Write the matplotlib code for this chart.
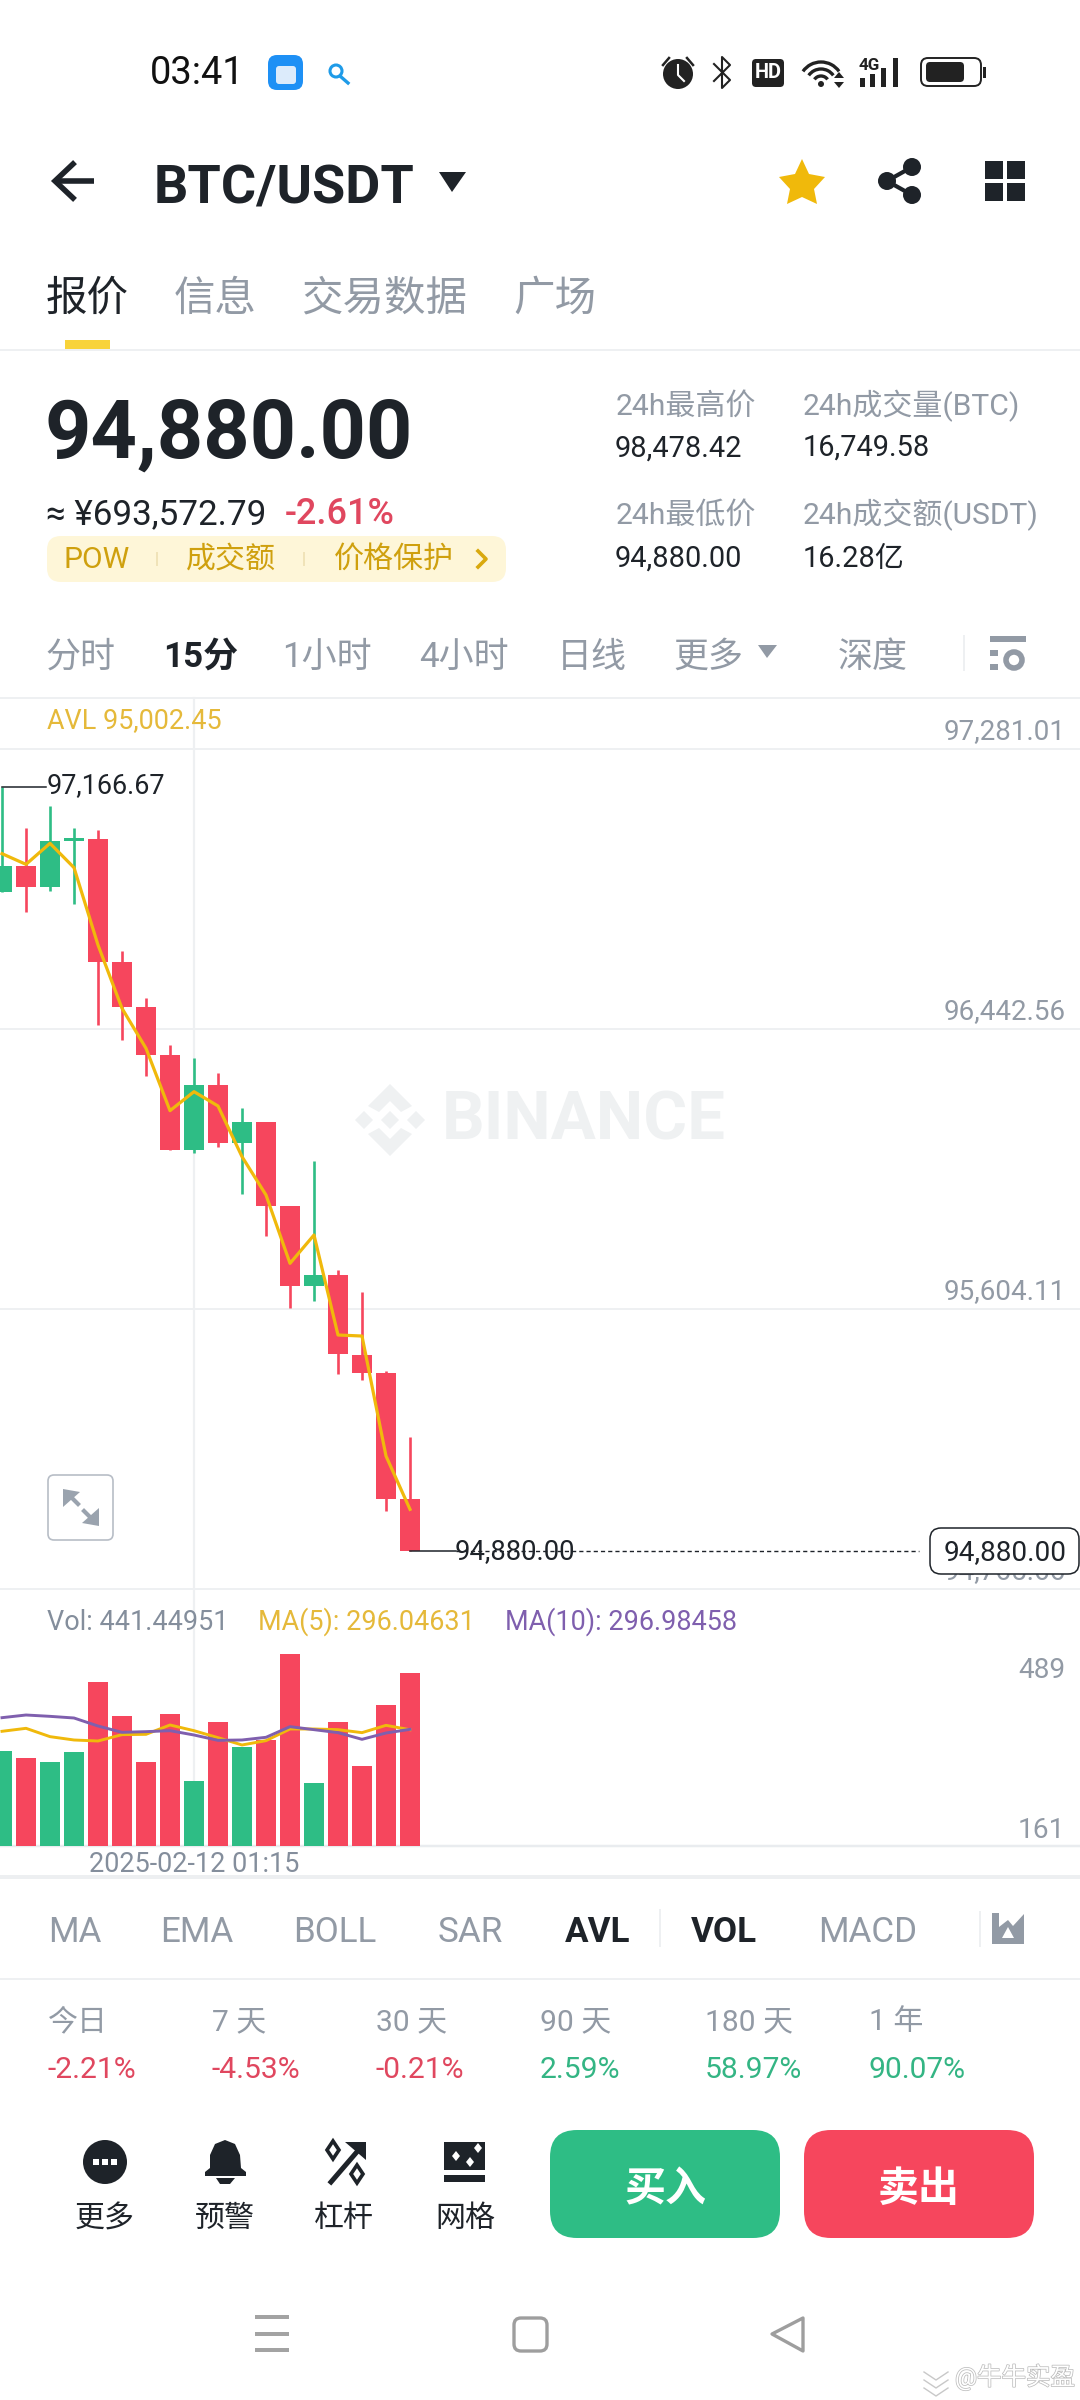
"""
plot.py
BTC/USDT 15 minute candle screen, drawn on a 1080x2400 canvas.
"""
import matplotlib
matplotlib.use('Agg')
import matplotlib.pyplot as plt
import matplotlib.patheffects as pe
from matplotlib.patches import Arc, Circle, FancyBboxPatch, Polygon, Rectangle

plt.rcParams['font.family'] = ['Roboto', 'Noto Sans CJK SC', 'DejaVu Sans']

# candles
opens = [96852, 96932, 96868, 97007, 97011.5, 96642, 96507.4, 96363.7, 96080.2, 96273.8,
         96101.2, 96163.1, 95912.5, 95671.9, 95705.9, 95467.3, 95413.4, 95035.1]
highs = [97166.67, 97044.4, 97109.3, 97044.4, 97038.4, 96677.1, 96535.4, 96393.6, 96354.7, 96309.8,
         96205, 96163.1, 95912.5, 96046.3, 95720.9, 95656, 95418.4, 95221.8]
lows = [96851.8, 96793.9, 96855.8, 96816.9, 96453.5, 96409.6, 96301.8, 96080.2, 96072.2, 96090.2,
        95949.4, 95821.7, 95607.1, 95629, 95409.5, 95391.5, 94999.2, 94880]
closes = [96932, 96868, 97005.5, 97013.5, 96642.2, 96508.4, 96364.7, 96080.2, 96273.8, 96101.2,
          96163.1, 95913.5, 95671.9, 95705.9, 95469.3, 95413.4, 95036.1, 94880]
avl = [96967.6, 96935.6, 96998.5, 96925.7, 96694.1, 96504.4, 96384.7, 96198, 96254.9, 96212,
       96060.3, 95945.5, 95740.8, 95825.7, 95526.2, 95523.2, 95163.9, 95004.2]
price_ticks = [97281.01, 96442.56, 95604.11, 94765.66]
max_price = 97166.67
last_price = 94880.00

# volume panel
volumes = [241.0, 224.9, 213.9, 239.3, 416.7, 330.1, 213.9, 336.9, 164.6, 315.7,
           251.2, 269.0, 488.9, 161.3, 314.9, 203.7, 358.1, 441.4]
ma5 = [292.0, 299.6, 278.4, 269.9, 267.3, 283.5, 284.3, 308.1, 293.6, 275.8,
       257.2, 268.2, 297.9, 297.9, 296.2, 288.6, 307.2, 296.0]
ma10 = [326.7, 333.5, 330.1, 325.9, 305.5, 289.4, 291.1, 293.6, 282.6, 269.0,
        269.9, 276.7, 303.8, 296.2, 288.6, 271.6, 287.7, 297.0]

# text rows
tabs = ['报价', '信息', '交易数据', '广场']
periods = ['分时', '15分', '1小时', '4小时', '日线', '更多', '深度']
indicators = ['MA', 'EMA', 'BOLL', 'SAR', 'AVL', 'VOL', 'MACD']
stat_names = ['今日', '7 天', '30 天', '90 天', '180 天', '1 年']
stat_values = ['-2.21%', '-4.53%', '-0.21%', '2.59%', '58.97%', '90.07%']
tool_names = ['更多', '预警', '杠杆', '网格']

DARK = '#1E2329'
GREY = '#929AA5'
LINE = '#EEF0F2'
RED = '#F6465D'
GREEN = '#2EBD85'
GOLD = '#E5B93A'
AVL_COL = '#F0B90B'
PURPLE = '#7F5FAE'
TEXT_RED = '#E0475F'
TEXT_GREEN = '#34B584'


fig = plt.figure(figsize=(10.8, 24), dpi=100, facecolor='white')


def overlay(z):
    a = fig.add_axes([0, 0, 1, 1], zorder=z)
    a.set_xlim(0, 1080)
    a.set_ylim(2400, 0)
    a.axis('off')
    return a


ui = overlay(0)
top = overlay(5)


def txt(x, y, s, px=28, color=GREY, ha='left', weight='normal', a=None, **kw):
    # +3: va='center' sits a little high for these fonts
    return (a or ui).text(x, y + 3, s, fontsize=px * 0.72, color=color, ha=ha, va='center',
                          fontweight=weight, **kw)


def hline(y, x0=0, x1=1080, color=LINE, lw=2, a=None):
    (a or ui).plot([x0, x1], [y, y], color=color, lw=lw * 0.72, solid_capstyle='butt')


def box(x0, y0, x1, y1, r, face, edge='none', lw=0, a=None, z=2):
    (a or ui).add_patch(FancyBboxPatch((x0 + r, y0 + r), x1 - x0 - 2 * r, y1 - y0 - 2 * r,
                                       boxstyle=f'round,pad={r},rounding_size={r}',
                                       fc=face, ec=edge, lw=lw, zorder=z))


def poly(points, color, a=None, z=2):
    (a or ui).add_patch(Polygon(points, closed=True, fc=color, ec='none', zorder=z))


# ---- status bar ----
txt(150, 70, '03:41', 38, '#111111')
box(268, 55, 303, 90, 9, '#1E90F5')
box(276, 66, 296, 84, 3, '#DCEBFB')
ui.add_patch(Circle((336, 71), 6, fc='none', ec='#1E9BE8', lw=2.2))
ui.plot([340, 348], [76, 83], color='#1E9BE8', lw=2.4)

ui.add_patch(Circle((678, 74), 15, fc='#222222', ec='none'))
ui.plot([678, 678, 684], [65, 75, 81], color='white', lw=1.5)
ui.plot([663, 669], [65, 58], color='#222222', lw=1.8)
ui.plot([687, 693], [58, 65], color='#222222', lw=1.8)
ui.plot([714, 730, 722, 722, 730, 714], [64, 80, 88, 57, 65, 81], color='#222222', lw=1.5)
box(752, 59, 784, 87, 4, '#222222')
txt(768, 70, 'HD', 20, 'white', ha='center', weight='bold', zorder=4)
for r in (8, 15, 22):
    ui.add_patch(Arc((821, 84), r * 2, r * 2, theta1=215, theta2=325, ec='#222222', lw=2.4))
ui.add_patch(Circle((821, 84), 3, fc='#222222', ec='none'))
poly([(839, 72), (844, 78), (834, 78)], '#222222')
poly([(839, 88), (844, 82), (834, 82)], '#222222')
txt(859, 63, '4G', 17, '#222222', weight='bold')
for bx, by in zip([860, 870, 881, 893], [78, 74, 68, 58]):
    ui.add_patch(Rectangle((bx, by), 5, 87 - by, fc='#222222', ec='none'))
box(921, 58, 981, 86, 7, 'white', '#222222', 1.4)
box(926, 62, 964, 82, 4, '#222222')
ui.add_patch(Rectangle((983, 67), 3, 11, fc='#222222', ec='none'))

# ---- nav bar ----
ui.plot([94, 58], [181, 181], color=DARK, lw=4, solid_capstyle='butt')
ui.plot([73, 55, 73], [164, 181, 198], color=DARK, lw=4, solid_joinstyle='miter')
txt(154, 186, 'BTC/USDT', 54, DARK, weight='bold')
poly([(439, 172), (466, 172), (452, 192)], DARK)
poly([(802, 159), (809, 174), (825, 177), (814, 189), (817, 204), (802, 197),
      (787, 204), (790, 189), (779, 177), (795, 174)], '#F0B90B')
ui.plot([912, 887, 912], [167, 181, 195], color=DARK, lw=3)
for cx, cy, r in [(912, 167, 9), (887, 181, 9), (912, 195, 9)]:
    ui.add_patch(Circle((cx, cy), r, fc=DARK, ec='none', zorder=3))
for gx in (985, 1007):
    for gy in (161, 183):
        ui.add_patch(Rectangle((gx, gy), 18, 18, fc=DARK, ec='none'))

# ---- tabs ----
for s, x, c, w in zip(tabs, [46, 174, 301, 513], [DARK, GREY, GREY, GREY],
                      ['medium', 'normal', 'normal', 'normal']):
    txt(x, 296, s, 41.5, c, weight=w)
ui.add_patch(Rectangle((65, 340), 45, 9, fc='#F8D33A', ec='none'))
hline(350)

# ---- price block ----
txt(44, 433, '94,880.00', 81, DARK, weight='bold')
txt(46, 512, '≈ ¥693,572.79', 35, DARK)
txt(285, 512, '-2.61%', 36, TEXT_RED, weight='medium')
box(47, 536, 506, 582, 14, '#FEF6D8')
txt(63, 557, 'POW', 30, '#CFA00E', zorder=3)
txt(186, 557, '成交额', 30, '#CFA00E', zorder=3)
txt(334, 557, '价格保护', 30, '#CFA00E', zorder=3)
ui.plot([478, 486, 478], [551, 559, 567], color='#D9A90E', lw=2.6, zorder=3)
for sx in (157, 304):
    ui.plot([sx, sx], [553, 565], color='#F0E3B8', lw=1.4, zorder=3)

txt(616, 404, '24h最高价', 30)
txt(615, 446, '98,478.42', 29, DARK)
txt(803, 403, '24h成交量(BTC)', 30)
txt(803, 445, '16,749.58', 29, DARK)
txt(616, 513, '24h最低价', 30)
txt(615, 556, '94,880.00', 29, DARK)
txt(803, 512, '24h成交额(USDT)', 30)
txt(803, 556, '16.28亿', 29, DARK)

# ---- period row ----
for s, x in zip(periods, [45, 163, 282, 419, 557, 673, 838]):
    txt(x, 654, s, 35, DARK if s == '15分' else GREY, weight='bold' if s == '15分' else 'normal')
poly([(758, 645), (777, 645), (767, 658)], GREY)
ui.plot([964, 964], [636, 670], color=LINE, lw=1.4)
ui.add_patch(Rectangle((990, 636), 36, 6, fc=GREY, ec='none'))
ui.add_patch(Rectangle((990, 650), 8, 6, fc=GREY, ec='none'))
ui.add_patch(Rectangle((990, 664), 8, 6, fc=GREY, ec='none'))
ui.add_patch(Circle((1014, 660), 8, fc='none', ec=GREY, lw=4))
hline(698)

# ---- watermark ----
WM = '#EFF1F2'
for cx, cy, r in [(390, 1120, 9), (364, 1120, 9), (416, 1120, 9)]:
    poly([(cx, cy - r), (cx + r, cy), (cx, cy + r), (cx - r, cy)], WM)
poly([(390, 1084), (412, 1106), (401, 1112), (390, 1101), (379, 1112), (368, 1106)], WM)
poly([(390, 1156), (412, 1134), (401, 1128), (390, 1139), (379, 1128), (368, 1134)], WM)
txt(442, 1118, 'BINANCE', 67, WM, weight='bold')

# crosshair under the marks
ui.plot([194, 194], [698, 1846], color=LINE, lw=1.6)

# ---- candles, x index i sits at 2 + 24 * i pixels ----
xs = list(range(len(opens)))
xlim = (-2 / 24, 1078 / 24)
ax = fig.add_axes([0, 1 - 1589 / 2400, 1, 840 / 2400], zorder=1)
ax.patch.set_alpha(0)
ax.set_xlim(*xlim)
ax.set_ylim(price_ticks[-1], price_ticks[0])
ax.axis('off')

for v in price_ticks:
    ax.axhline(v, color=LINE, lw=1.4, zorder=0, clip_on=False)
    ax.annotate(f'{v:,.2f}', (1, v), xycoords=('axes fraction', 'data'),
                xytext=(-10, 12.5), textcoords='offset points', ha='right', va='center',
                fontsize=20, color=GREY, zorder=1, annotation_clip=False)

colors = [GREEN if c >= o else RED for o, c in zip(opens, closes)]
ax.vlines(xs, lows, highs, colors=colors, lw=1.9, zorder=2)
ax.bar(xs, [max(abs(c - o), 3) for o, c in zip(opens, closes)],
       bottom=[min(o, c) for o, c in zip(opens, closes)], width=0.86, color=colors, zorder=3)
ax.plot(xs, avl, color=AVL_COL, lw=2.3, zorder=4)

# high and last labels
ax.plot([0, 1.85], [max_price, max_price], color=DARK, lw=1.1, zorder=4)
ax.plot([17, 18.9], [last_price, last_price], color=DARK, lw=1.1, zorder=4)
ax.plot([18.9, 38.2], [last_price, last_price], color=DARK, lw=1, ls=(0, (3, 2.2)), zorder=4)
txt(47, 783, f'{max_price:,.2f}', 27, DARK)
txt(455, 1549, f'{last_price:,.2f}', 27.5, DARK)
txt(47, 718, 'AVL 95,002.45', 27, GOLD)
box(930, 1528, 1079, 1574, 11, 'white', DARK, 1.1, a=top)
txt(1005, 1550, f'{last_price:,.2f}', 28, DARK, ha='center', a=top, zorder=6)

# expand button
box(48, 1475, 113, 1540, 6, 'white', '#B7BDC6', 1.2)
poly([(63, 1489), (80, 1492), (63, 1507)], '#9AA3AE', z=3)
poly([(99, 1526), (82, 1523), (99, 1508)], '#9AA3AE', z=3)
ui.plot([68, 78], [1494, 1504], color='#9AA3AE', lw=3, zorder=3)
ui.plot([94, 84], [1521, 1511], color='#9AA3AE', lw=3, zorder=3)

# ---- volume panel ----
vol = fig.add_axes([0, 1 - 1846 / 2400, 1, 246 / 2400], zorder=1)
vol.patch.set_alpha(0)
vol.set_xlim(*xlim)
vol.set_ylim(0, 626.3)
vol.axis('off')
vol.bar(xs, volumes, width=0.86, color=colors, zorder=2)
vol.plot(xs, ma5, color=AVL_COL, lw=2.1, zorder=3)
vol.plot(xs, ma10, color=PURPLE, lw=2.1, zorder=4)

hline(1846, color='#E9ECEF', lw=2.5)
txt(47, 1619, 'Vol: 441.44951', 27, '#848E9C')
txt(258, 1619, 'MA(5): 296.04631', 27, GOLD)
txt(505, 1619, 'MA(10): 296.98458', 27, PURPLE)
txt(1065, 1668, '489', 28, ha='right')
txt(1065, 1828, '161', 28, ha='right')
txt(89, 1861, '2025-02-12 01:15', 27, '#848E9C')
hline(1877, color='#EDEFF1', lw=4)

# ---- indicator row ----
for s, x in zip(indicators, [48, 160, 293, 438, 565, 691, 818]):
    active = s in ('AVL', 'VOL')
    txt(x, 1930, s, 35, DARK if active else GREY, weight='bold' if active else 'normal')
ui.plot([660, 660], [1910, 1946], color=LINE, lw=1.4)
ui.plot([980, 980], [1912, 1946], color=LINE, lw=1.4)
poly([(992, 1913), (999, 1913), (999, 1927), (1008, 1920), (1013, 1926), (1024, 1914), (1024, 1944),
      (992, 1944)], GREY)
poly([(1008, 1927), (1014, 1938), (1002, 1938)], 'white', z=3)
hline(1979)

# ---- returns row ----
stat_x = [48, 212, 376, 540, 705, 869]
for s, v, x in zip(stat_names, stat_values, stat_x):
    txt(x, 2019, s, 30)
    txt(x, 2067, v, 30, TEXT_RED if v.startswith('-') else TEXT_GREEN)

# ---- bottom tools ----
ui.add_patch(Circle((105, 2162), 22, fc=DARK, ec='none'))
for dx in (-9, 0, 9):
    ui.add_patch(Rectangle((105 + dx - 3, 2159), 6, 6, fc='white', ec='none', zorder=3))
poly([(225, 2140), (235, 2144), (240, 2155), (241, 2168), (246, 2172), (246, 2176), (205, 2176),
      (205, 2172), (210, 2168), (210, 2155), (215, 2144)], DARK)
poly([(216, 2178), (235, 2178), (230, 2184), (220, 2184)], DARK)
ui.plot([331, 362], [2182, 2146], color=DARK, lw=3.6)
poly([(345, 2142), (366, 2142), (366, 2160)], DARK)
for cx, cy in [(333, 2150), (357, 2174)]:
    poly([(cx, cy - 9), (cx + 6, cy), (cx, cy + 9), (cx - 6, cy)], 'white', z=3)
    ui.add_patch(Polygon([(cx, cy - 9), (cx + 6, cy), (cx, cy + 9), (cx - 6, cy)], closed=True,
                         fc='none', ec=DARK, lw=2.6, zorder=4))
poly([(444, 2142), (485, 2142), (485, 2170), (444, 2170)], DARK)
for cx, cy in [(456, 2156), (470, 2162), (478, 2148)]:
    poly([(cx, cy - 5), (cx + 4, cy), (cx, cy + 5), (cx - 4, cy)], 'white', z=3)
ui.add_patch(Rectangle((444, 2175), 41, 7, fc=DARK, ec='none'))
for s, x in zip(tool_names, [105, 225, 344, 465]):
    txt(x, 2216, s, 30, DARK, ha='center')

box(550, 2130, 780, 2238, 27, GREEN)
box(804, 2130, 1034, 2238, 27, RED)
txt(665, 2187, '买入', 41, 'white', ha='center', weight='bold', zorder=4)
txt(919, 2187, '卖出', 41, 'white', ha='center', weight='bold', zorder=4)

# ---- system bar ----
for y in (2317, 2333.5, 2350):
    hline(y, 255, 289, color='#A3A3A3', lw=4)
box(514, 2318, 547, 2351, 7, 'white', '#9E9E9E', 2.4)
ui.add_patch(Polygon([(803, 2318), (772, 2334), (803, 2351)], closed=True, fc='white',
                     ec='#9E9E9E', lw=2.4, joinstyle='round'))

# corner mark, pale embossed look
for dy in (0, 8, 16):
    ui.plot([924, 936, 948], [2372 + dy, 2380 + dy, 2372 + dy], color='#C8C8C8', lw=1)
mark = txt(955, 2374, '@牛牛实盈', 24.5, 'white')
mark.set_path_effects([pe.withStroke(linewidth=1.1, foreground='#BDBDBD')])

fig.savefig('out.png', dpi=100)
plt.close(fig)
